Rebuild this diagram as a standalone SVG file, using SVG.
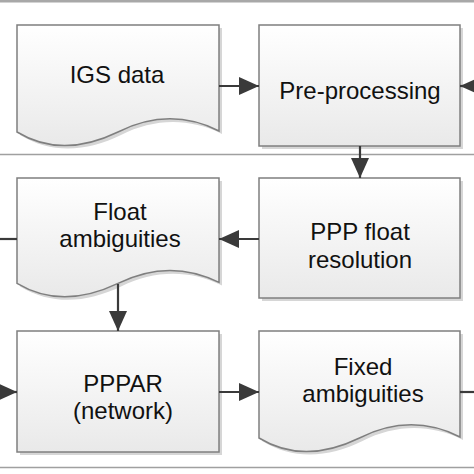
<svg xmlns="http://www.w3.org/2000/svg" width="474" height="474" viewBox="0 0 474 474">
  <defs>
    <linearGradient id="fillg" x1="0" y1="0" x2="0" y2="1">
      <stop offset="0" stop-color="#ffffff"/>
      <stop offset="1" stop-color="#e9e9e9"/>
    </linearGradient>
    <marker id="arr" markerUnits="userSpaceOnUse" markerWidth="20" markerHeight="18" refX="20" refY="9" orient="auto">
      <path d="M0,0 L20,9 L0,18 Z" fill="#3a3a3a"/>
    </marker>
    <path id="doc" d="M0,0 H202 V106 C168,89 133,91 101,107 C68,123 33,127 0,107 Z"/>
  </defs>
  <style>
    .shape { fill: url(#fillg); stroke: #7f7f7f; stroke-width: 1.5; }
    .shadow { fill: #d6d6d6; stroke: none; }
    .lbl { font-family: "Liberation Sans", Arial, sans-serif; font-size: 24px; fill: #111; text-anchor: middle; }
    .conn { stroke: #3a3a3a; stroke-width: 2.2; fill: none; }
    .sep { stroke: #a0a0a0; stroke-width: 1.5; }
  </style>
  <rect x="0" y="0" width="474" height="474" fill="#ffffff"/>
  <!-- separators -->
  <rect x="0" y="0" width="474" height="2.5" fill="#a8a8a8"/>
  <line class="sep" x1="0" y1="154.5" x2="474" y2="154.5"/>
  <line class="sep" x1="0" y1="467.5" x2="474" y2="467.5"/>

  <g id="igs-data">
    <use href="#doc" class="shadow" transform="translate(20,28)"/>
    <use href="#doc" class="shape" transform="translate(17,25)"/>
    <text class="lbl" x="117" y="83">IGS data</text>
  </g>
  <g id="pre-processing">
    <rect class="shadow" x="262" y="28" width="201" height="121"/>
    <rect class="shape" x="259" y="25" width="201" height="121"/>
    <text class="lbl" x="360" y="99">Pre-processing</text>
  </g>
  <g id="float-ambiguities">
    <use href="#doc" class="shadow" transform="translate(20,181) scale(1,0.985)"/>
    <use href="#doc" class="shape" transform="translate(17,178) scale(1,0.985)"/>
    <text class="lbl" x="120" y="220">Float</text>
    <text class="lbl" x="120" y="247">ambiguities</text>
  </g>
  <g id="ppp-float-resolution">
    <rect class="shadow" x="262" y="181" width="201" height="120"/>
    <rect class="shape" x="259" y="178" width="201" height="120"/>
    <text class="lbl" x="360" y="240">PPP float</text>
    <text class="lbl" x="360" y="268">resolution</text>
  </g>
  <g id="pppar-network">
    <rect class="shadow" x="20" y="334" width="202" height="121"/>
    <rect class="shape" x="17" y="331" width="202" height="121"/>
    <text class="lbl" x="123" y="392">PPPAR</text>
    <text class="lbl" x="123" y="419">(network)</text>
  </g>
  <g id="fixed-ambiguities">
    <use href="#doc" class="shadow" transform="translate(262,334) scale(0.995,1)"/>
    <use href="#doc" class="shape" transform="translate(259,331) scale(0.995,1)"/>
    <text class="lbl" x="363" y="375">Fixed</text>
    <text class="lbl" x="363" y="402">ambiguities</text>
  </g>

  <g id="connectors">
    <line class="conn" x1="219" y1="86" x2="259" y2="86" marker-end="url(#arr)"/>
    <line class="conn" x1="480" y1="86" x2="460" y2="86" marker-end="url(#arr)"/>
    <line class="conn" x1="360" y1="146" x2="360" y2="178" marker-end="url(#arr)"/>
    <line class="conn" x1="259" y1="239" x2="219" y2="239" marker-end="url(#arr)"/>
    <line class="conn" x1="0" y1="239" x2="17" y2="239"/>
    <line class="conn" x1="118" y1="284" x2="118" y2="331" marker-end="url(#arr)"/>
    <line class="conn" x1="-6" y1="392" x2="17" y2="392" marker-end="url(#arr)"/>
    <line class="conn" x1="219" y1="392" x2="259" y2="392" marker-end="url(#arr)"/>
    <line class="conn" x1="460" y1="392" x2="474" y2="392"/>
  </g>
</svg>
